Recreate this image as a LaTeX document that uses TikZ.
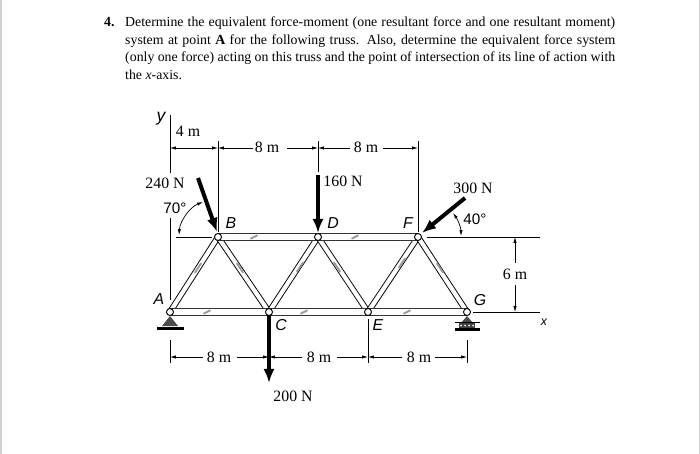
\documentclass[tikz,border=0pt]{standalone}
\usepackage{fontspec}
\setmainfont{Liberation Serif}
\setsansfont{Liberation Sans}
\usetikzlibrary{arrows.meta}
\tikzset{
	dimline/.style={line width=0.6pt, -{Latex[length=5pt,width=2.8pt]}},
	anglearc/.style={line width=0.6pt, {Latex[length=5pt,width=2.8pt]}-{Latex[length=5pt,width=2.8pt]}},
	extline/.style={line width=0.8pt},
	smudge/.style={line width=1.6pt, black!40, line cap=round},
	joint/.style={circle, draw, fill=white, line width=0.8pt, minimum size=6pt, inner sep=0pt},
	load/.style={line width=3.4pt, -{Latex[length=12pt,width=9.5pt]}},
	pointlabel/.style={font=\sffamily\itshape\fontsize{13.5}{13.5}\selectfont, inner sep=0pt},
	numlabel/.style={font=\fontsize{13.5}{13.5}\selectfont, inner sep=0pt},
}
\begin{document}
\begin{tikzpicture}[x=0.03cm, y=-0.03cm]
	\useasboundingbox (0, 0) rectangle (700, 454);
	\fill[black!18] (0, 0) rectangle (1.5, 454);
	\fill[black!18] (698.5, 0) rectangle (700, 454);

	% problem text
	\node[anchor=north west, inner sep=0pt, font=\bfseries\fontsize{11.8}{15}\selectfont] (qnum) at (104, 17) {4.};
	\node[anchor=north west, inner sep=0pt, text width=14.7cm, align=justify, font=\fontsize{11.8}{14.95}\selectfont] (question) at (125, 17)
	{Determine the equivalent force-moment (one resultant force and one resultant moment)\linebreak
	system at point \textbf{A} for the following truss. Also, determine the equivalent force system\linebreak
	(only one force) acting on this truss and the point of intersection of its line of action with\linebreak
	the \textit{x}-axis.};

	% joints
	\coordinate (A) at (170, 312);
	\coordinate (C) at (269, 312);
	\coordinate (E) at (368, 312);
	\coordinate (G) at (467, 312);
	\coordinate (B) at (218, 237);
	\coordinate (D) at (318, 237);
	\coordinate (F) at (418, 237);

	% truss members
	\foreach \p/\q in {A/B, B/C, C/D, D/E, E/F, F/G}
	{
		\draw[line width=5.2pt] (\p) -- (\q);
		\draw[white, line width=3.6pt] (\p) -- (\q);
	}
	\foreach \p/\q in {A/C, C/E, E/G, B/D, D/F}
	{
		\draw[line width=6.2pt, black!80] (\p) -- (\q);
		\draw[white, line width=4.6pt] (\p) -- (\q);
	}
	\foreach \x/\y in {254/237, 355/237, 207/312, 304/312, 407/312}
		\draw[smudge] (\x-3, \y+1.5) -- (\x+3, \y-1.5);
	\foreach \x/\y in {198/268, 300/267, 402/263}
		\draw[smudge] (\x-3, \y+4.5) -- (\x+3, \y-4.5);
	\foreach \x/\y in {240/268, 337/267, 440/268}
		\draw[smudge] (\x-3, \y-4.5) -- (\x+3, \y+4.5);

	\node[joint] (jA) at (A) {};
	\node[joint] (jB) at (B) {};
	\node[joint] (jC) at (C) {};
	\node[joint] (jD) at (D) {};
	\node[joint] (jE) at (E) {};
	\node[joint] (jF) at (F) {};
	\node[joint] (jG) at (G) {};

	% supports
	\fill[black!70] (170, 316) -- (162, 326) -- (178, 326) -- cycle;
	\fill (157, 327) rectangle (184, 330);
	\fill[black!70] (467, 316) -- (461, 323) -- (473, 323) -- cycle;
	\draw[line width=0.8pt] (455, 322.5) -- (480, 322.5);
	\fill[black!75] (459, 323) rectangle (475, 328);
	\foreach \x in {461, 465, 469, 473}
		\fill[white] (\x, 325.5) circle (1);
	\fill (455, 328) rectangle (480, 331);

	% extension lines
	\draw[extline] (170, 115) -- (170, 173);
	\draw[extline] (170, 218) -- (170, 300);
	\draw[extline] (218, 141) -- (218, 232);
	\draw[extline] (318, 141) -- (318, 172);
	\draw[extline] (418, 141) -- (418, 232);
	\draw[extline] (269, 316) -- (269, 363);
	\draw[extline] (368, 319) -- (368, 363);
	\draw[extline] (170, 340) -- (170, 363);
	\draw[extline] (467, 340) -- (467, 363);
	\draw[extline] (176, 237) -- (212, 237);
	\draw[extline] (427, 237) -- (540, 237);
	\draw[extline] (473, 312) -- (540, 312);

	% top dimensions
	\draw[dimline] (200, 148) -- (218, 148);
	\draw[dimline] (200, 148) -- (170, 148);
	\draw[dimline] (253, 148) -- (218, 148);
	\draw[dimline] (287, 148) -- (318, 148);
	\draw[dimline] (350, 148) -- (318, 148);
	\draw[dimline] (383, 148) -- (418, 148);

	% bottom dimensions
	\draw[dimline] (203, 357) -- (170, 357);
	\draw[dimline] (237, 357) -- (269, 357);
	\draw[dimline] (302, 357) -- (269, 357);
	\draw[dimline] (337, 357) -- (368, 357);
	\draw[dimline] (402, 357) -- (368, 357);
	\draw[dimline] (435, 357) -- (467, 357);

	% right dimension
	\draw[dimline] (515, 263) -- (515, 237);
	\draw[dimline] (515, 285) -- (515, 312);

	% angles
	\draw[anglearc] (179, 235) .. controls (180, 221) and (190, 207) .. (203, 202);
	\draw[anglearc] (453, 213) .. controls (458, 220) and (461, 228) .. (461, 236);

	% loads
	\draw[load] (198, 178) -- (217, 232);
	\draw[load] (318, 175) -- (318, 233);
	\draw[load] (465, 198) -- (422, 233);
	\draw[load] (269, 315) -- (269, 383);

	% labels
	\node[numlabel] (lab240) at (165, 183) {240 N};
	\node[numlabel, font=\sffamily\fontsize{13}{13}\selectfont] (lab70) at (175, 208) {70°};
	\node[numlabel] (lab160) at (343, 181) {160 N};
	\node[numlabel] (lab300) at (473, 188) {300 N};
	\node[numlabel] (lab200) at (293, 396) {200 N};
	\node[numlabel, font=\sffamily\fontsize{13}{13}\selectfont] (lab40) at (475, 219) {40°};
	\node[numlabel] (dimfour) at (188, 131) {4 m};
	\node[numlabel] (dimtop1) at (267, 147) {8 m};
	\node[numlabel] (dimtop2) at (366, 147) {8 m};
	\node[numlabel] (dimbot1) at (219, 357) {8 m};
	\node[numlabel] (dimbot2) at (319, 357) {8 m};
	\node[numlabel] (dimbot3) at (419, 357) {8 m};
	\node[numlabel] (dimsix) at (515, 274) {6 m};

	\node[pointlabel] (labA) at (159, 299) {A};
	\node[pointlabel] (labB) at (231, 223) {B};
	\node[pointlabel] (labC) at (281, 325) {C};
	\node[pointlabel] (labD) at (333, 223) {D};
	\node[pointlabel] (labE) at (378, 325) {E};
	\node[pointlabel] (labF) at (408, 223) {F};
	\node[pointlabel] (labG) at (480, 300) {G};
	\node[pointlabel, font=\sffamily\itshape\fontsize{15}{15}\selectfont] (laby) at (161, 119) {y};
	\node[pointlabel, font=\sffamily\itshape\fontsize{10.5}{10.5}\selectfont] (labx) at (544, 322) {x};
\end{tikzpicture}
\end{document}
